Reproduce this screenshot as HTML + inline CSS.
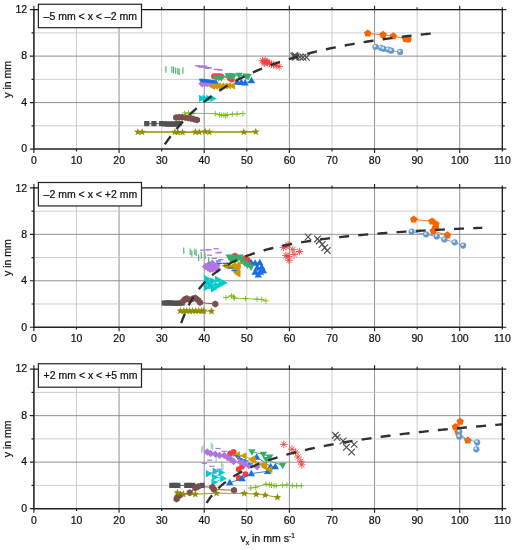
<!DOCTYPE html>
<html lang="en">
<head>
<meta charset="utf-8">
<title>y over v_x</title>
<style>
html,body{margin:0;padding:0;background:#fff;}
body{width:514px;height:550px;overflow:hidden;}
svg{display:block;}
svg text{stroke:#111;stroke-width:0.22px;}
</style>
</head>
<body>
<svg width="514" height="550" viewBox="0 0 514 550" font-family="'Liberation Sans', sans-serif" font-size="10.0" fill="#111">
<rect width="514" height="550" fill="#fff" stroke="none"/>
<defs>
<rect id="m-sq" x="-2.6" y="-2.6" width="5.2" height="5.2"/>
<circle id="m-ci" r="2.95"/>
<polygon id="m-up" points="0,-3.9 3.7,2.6 -3.7,2.6"/>
<polygon id="m-dn" points="0,3.9 3.7,-2.6 -3.7,-2.6"/>
<polygon id="m-di" points="0,-3.7 3.7,0 0,3.7 -3.7,0"/>
<polygon id="m-lt" points="-3.9,0 2.6,-3.7 2.6,3.7"/>
<polygon id="m-rt" points="3.9,0 -2.6,-3.7 -2.6,3.7"/>
<polygon id="m-hx" points="0,-3.5 3.03,-1.75 3.03,1.75 0,3.5 -3.03,1.75 -3.03,-1.75"/>
<polygon id="m-st" points="0,-4 1,-1.38 3.8,-1.24 1.62,0.53 2.35,3.24 0,1.7 -2.35,3.24 -1.62,0.53 -3.8,-1.24 -1,-1.38"/>
<polygon id="m-pe" points="0,-3.95 3.76,-1.22 2.32,3.2 -2.32,3.2 -3.76,-1.22"/>
<g id="m-sp"><circle r="3.1"/><circle cx="-0.7" cy="-0.9" r="1.3" fill="#fff" fill-opacity="0.75"/></g>
<path id="m-pl" d="M-2.8,0H2.8M0,-2.8V2.8" fill="none" stroke-width="0.8"/>
<path id="m-x" d="M-3.3,-3.3L3.3,3.3M-3.3,3.3L3.3,-3.3" fill="none" stroke-width="1.15"/>
<path id="m-as" d="M-3.8,0H3.8M0,-3.8V3.8M-2.7,-2.7L2.7,2.7M-2.7,2.7L2.7,-2.7" fill="none" stroke-width="0.85"/>
<path id="m-da" d="M-2.6,0H2.6" fill="none" stroke-width="1.25"/>
<path id="m-vb" d="M0,-3.2V3.2" fill="none" stroke-width="1.05"/>
</defs>
<g>
<line x1="76.48" x2="76.48" y1="9.65" y2="149.05" stroke="#c8c8c8" stroke-width="0.9"/>
<line x1="119.06" x2="119.06" y1="9.65" y2="149.05" stroke="#848484" stroke-width="0.9"/>
<line x1="161.65" x2="161.65" y1="9.65" y2="149.05" stroke="#c8c8c8" stroke-width="0.9"/>
<line x1="204.23" x2="204.23" y1="9.65" y2="149.05" stroke="#848484" stroke-width="0.9"/>
<line x1="246.81" x2="246.81" y1="9.65" y2="149.05" stroke="#c8c8c8" stroke-width="0.9"/>
<line x1="289.39" x2="289.39" y1="9.65" y2="149.05" stroke="#848484" stroke-width="0.9"/>
<line x1="331.97" x2="331.97" y1="9.65" y2="149.05" stroke="#c8c8c8" stroke-width="0.9"/>
<line x1="374.55" x2="374.55" y1="9.65" y2="149.05" stroke="#848484" stroke-width="0.9"/>
<line x1="417.14" x2="417.14" y1="9.65" y2="149.05" stroke="#c8c8c8" stroke-width="0.9"/>
<line x1="459.72" x2="459.72" y1="9.65" y2="149.05" stroke="#848484" stroke-width="0.9"/>
<line x1="33.9" x2="502.3" y1="125.82" y2="125.82" stroke="#c8c8c8" stroke-width="0.9"/>
<line x1="33.9" x2="502.3" y1="102.58" y2="102.58" stroke="#848484" stroke-width="0.9"/>
<line x1="33.9" x2="502.3" y1="79.35" y2="79.35" stroke="#c8c8c8" stroke-width="0.9"/>
<line x1="33.9" x2="502.3" y1="56.12" y2="56.12" stroke="#848484" stroke-width="0.9"/>
<line x1="33.9" x2="502.3" y1="32.88" y2="32.88" stroke="#c8c8c8" stroke-width="0.9"/>
<g fill="#515151" stroke="#515151" stroke-width="0">
<polyline fill="none" stroke-width="0.9" points="146.74,123.61 153.98,123.61 161.65,123.61 164.63,123.84 167.61,124.07 170.16,124.07 172.72,124.07 175.27,124.07 177.4,123.84 179.1,123.49"/>
<use href="#m-sq" x="146.74" y="123.61"/>
<use href="#m-sq" x="153.98" y="123.61"/>
<use href="#m-sq" x="161.65" y="123.61"/>
<use href="#m-sq" x="164.63" y="123.84"/>
<use href="#m-sq" x="167.61" y="124.07"/>
<use href="#m-sq" x="170.16" y="124.07"/>
<use href="#m-sq" x="172.72" y="124.07"/>
<use href="#m-sq" x="175.27" y="124.07"/>
<use href="#m-sq" x="177.4" y="123.84"/>
<use href="#m-sq" x="179.1" y="123.49"/>
</g>
<g fill="#F14040" stroke="#F14040" stroke-width="0">
<polyline fill="none" stroke-width="0.9" points="214.02,76.21 216.58,76.21 219.13,76.21 221.26,76.45 229.78,78.3 231.91,79.58"/>
<use href="#m-ci" x="214.02" y="76.21"/>
<use href="#m-ci" x="216.58" y="76.21"/>
<use href="#m-ci" x="219.13" y="76.21"/>
<use href="#m-ci" x="221.26" y="76.45"/>
<use href="#m-ci" x="229.78" y="78.3"/>
<use href="#m-ci" x="231.91" y="79.58"/>
</g>
<g fill="#1A6FDF" stroke="#1A6FDF" stroke-width="0">
<polyline fill="none" stroke-width="0.9" points="237.02,82.14 241.27,82.37 245.11,82.84 251.49,80.74"/>
<use href="#m-up" x="237.02" y="82.14"/>
<use href="#m-up" x="241.27" y="82.37"/>
<use href="#m-up" x="245.11" y="82.84"/>
<use href="#m-up" x="251.49" y="80.74"/>
</g>
<g fill="#37AD6B" stroke="#37AD6B" stroke-width="0">
<polyline fill="none" stroke-width="0.9" points="216.15,77.84 218.71,77.84 221.26,77.84 228.07,75.87 230.63,75.87 233.18,76.1 239.14,75.28 245.96,75.98 248.09,76.68"/>
<use href="#m-dn" x="216.15" y="77.84"/>
<use href="#m-dn" x="218.71" y="77.84"/>
<use href="#m-dn" x="221.26" y="77.84"/>
<use href="#m-dn" x="228.07" y="75.87"/>
<use href="#m-dn" x="230.63" y="75.87"/>
<use href="#m-dn" x="233.18" y="76.1"/>
<use href="#m-dn" x="239.14" y="75.28"/>
<use href="#m-dn" x="245.96" y="75.98"/>
<use href="#m-dn" x="248.09" y="76.68"/>
</g>
<g fill="#B177DE" stroke="#B177DE" stroke-width="0">
<polyline fill="none" stroke-width="0.9" points="202.1,83.76 204.65,83.53 207.21,83.53 210.19,83.53 213.17,83.76 215.72,84"/>
<use href="#m-di" x="202.1" y="83.76"/>
<use href="#m-di" x="204.65" y="83.53"/>
<use href="#m-di" x="207.21" y="83.53"/>
<use href="#m-di" x="210.19" y="83.53"/>
<use href="#m-di" x="213.17" y="83.76"/>
<use href="#m-di" x="215.72" y="84"/>
</g>
<g fill="#CC9900" stroke="#CC9900" stroke-width="0">
<polyline fill="none" stroke-width="0.9" points="212.32,86.32 215.3,86.09 218.28,86.09 221.69,86.09 225.09,86.09 228.5,85.86 232.33,85.86"/>
<use href="#m-lt" x="212.32" y="86.32"/>
<use href="#m-lt" x="215.3" y="86.09"/>
<use href="#m-lt" x="218.28" y="86.09"/>
<use href="#m-lt" x="221.69" y="86.09"/>
<use href="#m-lt" x="225.09" y="86.09"/>
<use href="#m-lt" x="228.5" y="85.86"/>
<use href="#m-lt" x="232.33" y="85.86"/>
</g>
<g fill="#00CBCC" stroke="#00CBCC" stroke-width="0">
<polyline fill="none" stroke-width="0.9" points="201.67,98.4 205.08,98.4 208.91,98.4 212.74,98.4"/>
<use href="#m-rt" x="201.67" y="98.4"/>
<use href="#m-rt" x="205.08" y="98.4"/>
<use href="#m-rt" x="208.91" y="98.4"/>
<use href="#m-rt" x="212.74" y="98.4"/>
</g>
<g fill="#7D4E4E" stroke="#7D4E4E" stroke-width="0">
<polyline fill="none" stroke-width="0.9" points="176.12,117.45 179.1,117.22 182.08,117.22 185.07,117.45 188.05,117.92 191.03,118.61 194.01,119.31 196.99,120.01"/>
<use href="#m-hx" x="176.12" y="117.45"/>
<use href="#m-hx" x="179.1" y="117.22"/>
<use href="#m-hx" x="182.08" y="117.22"/>
<use href="#m-hx" x="185.07" y="117.45"/>
<use href="#m-hx" x="188.05" y="117.92"/>
<use href="#m-hx" x="191.03" y="118.61"/>
<use href="#m-hx" x="194.01" y="119.31"/>
<use href="#m-hx" x="196.99" y="120.01"/>
</g>
<g fill="#8E8E00" stroke="#8E8E00" stroke-width="0">
<polyline fill="none" stroke-width="1.5" points="137.8,132.09 142.06,132.09 174.85,132.09 177.83,132.32 182.51,132.32 195.29,132.09 199.12,132.09 205.08,131.62 209.34,132.09 243.83,132.09 255.75,131.86"/>
<use href="#m-st" x="137.8" y="132.09"/>
<use href="#m-st" x="142.06" y="132.09"/>
<use href="#m-st" x="174.85" y="132.09"/>
<use href="#m-st" x="177.83" y="132.32"/>
<use href="#m-st" x="182.51" y="132.32"/>
<use href="#m-st" x="195.29" y="132.09"/>
<use href="#m-st" x="199.12" y="132.09"/>
<use href="#m-st" x="205.08" y="131.62"/>
<use href="#m-st" x="209.34" y="132.09"/>
<use href="#m-st" x="243.83" y="132.09"/>
<use href="#m-st" x="255.75" y="131.86"/>
</g>
<g fill="#FB6501" stroke="#FB6501" stroke-width="0">
<polyline fill="none" stroke-width="0.9" points="367.74,33.35 383.07,34.74 393.29,36.14 405.64,38.69 408.19,39.27"/>
<use href="#m-pe" x="367.74" y="33.35"/>
<use href="#m-pe" x="383.07" y="34.74"/>
<use href="#m-pe" x="393.29" y="36.14"/>
<use href="#m-pe" x="405.64" y="38.69"/>
<use href="#m-pe" x="408.19" y="39.27"/>
</g>
<g fill="#6699CC" stroke="#6699CC" stroke-width="0">
<polyline fill="none" stroke-width="0.9" points="375.41,46.82 380.94,47.75 383.5,48.8 388.18,49.5 391.16,50.66 400.1,51.93"/>
<use href="#m-sp" x="375.41" y="46.82"/>
<use href="#m-sp" x="380.94" y="47.75"/>
<use href="#m-sp" x="383.5" y="48.8"/>
<use href="#m-sp" x="388.18" y="49.5"/>
<use href="#m-sp" x="391.16" y="50.66"/>
<use href="#m-sp" x="400.1" y="51.93"/>
</g>
<g fill="#6FB802" stroke="#6FB802" stroke-width="0">
<polyline fill="none" stroke-width="0.8" points="184.64,113.04 188.47,113.04 193.16,113.27 215.3,113.62 219.56,114.78 221.69,115.36 223.81,115.13 225.52,115.59 227.22,114.78 232.33,114.2 237.02,113.97 242.98,113.62"/>
<use href="#m-pl" x="184.64" y="113.04"/>
<use href="#m-pl" x="188.47" y="113.04"/>
<use href="#m-pl" x="193.16" y="113.27"/>
<use href="#m-pl" x="215.3" y="113.62"/>
<use href="#m-pl" x="219.56" y="114.78"/>
<use href="#m-pl" x="221.69" y="115.36"/>
<use href="#m-pl" x="223.81" y="115.13"/>
<use href="#m-pl" x="225.52" y="115.59"/>
<use href="#m-pl" x="227.22" y="114.78"/>
<use href="#m-pl" x="232.33" y="114.2"/>
<use href="#m-pl" x="237.02" y="113.97"/>
<use href="#m-pl" x="242.98" y="113.62"/>
</g>
<g fill="#515151" stroke="#515151" stroke-width="0">
<use href="#m-x" x="293.65" y="56.12"/>
<use href="#m-x" x="294.93" y="55.54"/>
<use href="#m-x" x="296.2" y="56.7"/>
<use href="#m-x" x="295.35" y="57.28"/>
<use href="#m-x" x="300.04" y="57.05"/>
<use href="#m-x" x="303.02" y="57.28"/>
<use href="#m-x" x="306.42" y="57.28"/>
</g>
<g fill="#F14040" stroke="#F14040" stroke-width="0">
<use href="#m-as" x="262.56" y="60.76"/>
<use href="#m-as" x="263.84" y="61.93"/>
<use href="#m-as" x="265.12" y="60.53"/>
<use href="#m-as" x="266.4" y="61.93"/>
<use href="#m-as" x="267.67" y="62.51"/>
<use href="#m-as" x="269.38" y="63.09"/>
<use href="#m-as" x="271.51" y="64.25"/>
<use href="#m-as" x="273.64" y="64.83"/>
<use href="#m-as" x="276.19" y="65.41"/>
<use href="#m-as" x="279.17" y="66.57"/>
<use href="#m-as" x="264.69" y="63.09"/>
</g>
<g fill="#1A6FDF" stroke="#1A6FDF" stroke-width="0">
<use href="#m-da" x="201.67" y="79.35"/>
<use href="#m-da" x="203.8" y="79.7"/>
<use href="#m-da" x="205.93" y="79.93"/>
<use href="#m-da" x="208.06" y="80.16"/>
<use href="#m-da" x="210.19" y="80.51"/>
<use href="#m-da" x="212.32" y="80.74"/>
<use href="#m-da" x="214.45" y="81.09"/>
<use href="#m-da" x="202.1" y="80.51"/>
<use href="#m-da" x="204.65" y="80.86"/>
<use href="#m-da" x="207.21" y="81.09"/>
<use href="#m-da" x="209.76" y="81.44"/>
<use href="#m-da" x="212.32" y="81.67"/>
<use href="#m-da" x="214.87" y="82.02"/>
<use href="#m-da" x="202.95" y="81.67"/>
<use href="#m-da" x="206.36" y="82.02"/>
<use href="#m-da" x="209.34" y="82.25"/>
<use href="#m-da" x="212.74" y="82.6"/>
<use href="#m-da" x="215.3" y="82.84"/>
</g>
<g fill="#37AD6B" stroke="#37AD6B" stroke-width="0">
<use href="#m-vb" x="165.9" y="69.48"/>
<use href="#m-vb" x="171.87" y="69.48"/>
<use href="#m-vb" x="173.57" y="70.06"/>
<use href="#m-vb" x="175.7" y="70.64"/>
<use href="#m-vb" x="177.83" y="71.22"/>
<use href="#m-vb" x="179.1" y="71.8"/>
<use href="#m-vb" x="182.94" y="70.64"/>
</g>
<g fill="#B177DE" stroke="#B177DE" stroke-width="0">
<use href="#m-da" x="197.41" y="65.76"/>
<use href="#m-da" x="199.54" y="66.11"/>
<use href="#m-da" x="201.67" y="66.46"/>
<use href="#m-da" x="203.8" y="66.8"/>
<use href="#m-da" x="205.93" y="67.15"/>
<use href="#m-da" x="208.06" y="67.62"/>
<use href="#m-da" x="209.34" y="67.97"/>
<use href="#m-da" x="216.15" y="69.36"/>
<use href="#m-da" x="218.28" y="69.71"/>
<use href="#m-da" x="220.41" y="69.94"/>
<use href="#m-da" x="200.82" y="67.15"/>
<use href="#m-da" x="204.23" y="65.99"/>
<use href="#m-da" x="207.21" y="68.31"/>
</g>
<polyline fill="none" stroke="#303030" stroke-width="2.35" stroke-dasharray="10 9.2" stroke-dashoffset="-0.3" points="164.63,144.64 166.31,142.24 167.98,139.91 169.66,137.65 171.34,135.44 173.02,133.29 174.7,131.2 176.38,129.16 178.06,127.17 179.74,125.23 181.42,123.34 183.1,121.5 184.78,119.7 186.46,117.95 188.13,116.24 189.81,114.57 191.49,112.94 193.17,111.35 194.85,109.8 196.53,108.28 198.21,106.8 199.89,105.35 201.57,103.93 203.25,102.55 204.93,101.19 206.61,99.87 208.28,98.57 209.96,97.31 211.64,96.07 213.32,94.86 215,93.67 216.68,92.51 218.36,91.37 220.04,90.26 221.72,89.17 223.4,88.1 225.08,87.06 226.76,86.03 228.43,85.03 230.11,84.05 231.79,83.08 233.47,82.14 235.15,81.21 236.83,80.3 238.51,79.41 240.19,78.54 241.87,77.68 243.55,76.84 245.23,76.01 246.91,75.2 248.58,74.41 250.26,73.63 251.94,72.86 253.62,72.11 255.3,71.38 256.98,70.65 258.66,69.94 260.34,69.24 262.02,68.55 263.7,67.88 265.38,67.22 267.06,66.56 268.73,65.92 270.41,65.3 272.09,64.68 273.77,64.07 275.45,63.47 277.13,62.88 278.81,62.31 280.49,61.74 282.17,61.18 283.85,60.63 285.53,60.09 287.21,59.56 288.88,59.03 290.56,58.52 292.24,58.01 293.92,57.51 295.6,57.02 297.28,56.54 298.96,56.06 300.64,55.6 302.32,55.13 304,54.68 305.68,54.23 307.36,53.79 309.03,53.36 310.71,52.93 312.39,52.51 314.07,52.1 315.75,51.69 317.43,51.29 319.11,50.89 320.79,50.5 322.47,50.11 324.15,49.73 325.83,49.36 327.51,48.99 329.18,48.63 330.86,48.27 332.54,47.92 334.22,47.57 335.9,47.23 337.58,46.89 339.26,46.55 340.94,46.22 342.62,45.9 344.3,45.58 345.98,45.26 347.66,44.95 349.33,44.64 351.01,44.34 352.69,44.04 354.37,43.74 356.05,43.45 357.73,43.16 359.41,42.88 361.09,42.6 362.77,42.32 364.45,42.05 366.13,41.78 367.81,41.51 369.48,41.25 371.16,40.99 372.84,40.73 374.52,40.48 376.2,40.23 377.88,39.99 379.56,39.74 381.24,39.5 382.92,39.26 384.6,39.03 386.28,38.8 387.96,38.57 389.63,38.34 391.31,38.12 392.99,37.9 394.67,37.68 396.35,37.46 398.03,37.25 399.71,37.04 401.39,36.83 403.07,36.62 404.75,36.42 406.43,36.22 408.11,36.02 409.78,35.82 411.46,35.63 413.14,35.44 414.82,35.25 416.5,35.06 418.18,34.87 419.86,34.69 421.54,34.51 423.22,34.33 424.9,34.15 426.58,33.98 428.26,33.8 429.94,33.63 431.61,33.46"/>
<g stroke="#222" fill="none">
<path d="M33.9,149.05v4M33.9,9.65v-4M76.48,149.05v2.4M76.48,9.65v-2.4M119.06,149.05v4M119.06,9.65v-4M161.65,149.05v2.4M161.65,9.65v-2.4M204.23,149.05v4M204.23,9.65v-4M246.81,149.05v2.4M246.81,9.65v-2.4M289.39,149.05v4M289.39,9.65v-4M331.97,149.05v2.4M331.97,9.65v-2.4M374.55,149.05v4M374.55,9.65v-4M417.14,149.05v2.4M417.14,9.65v-2.4M459.72,149.05v4M459.72,9.65v-4M502.3,149.05v2.4M502.3,9.65v-2.4M33.9,149.05h-4M502.3,149.05h4M33.9,125.82h-2.4M502.3,125.82h2.4M33.9,102.58h-4M502.3,102.58h4M33.9,79.35h-2.4M502.3,79.35h2.4M33.9,56.12h-4M502.3,56.12h4M33.9,32.88h-2.4M502.3,32.88h2.4M33.9,9.65h-4M502.3,9.65h4" stroke-width="1.15"/>
<path d="M33.9,9.15V149.05H502.9" stroke-width="1.55"/>
<path d="M33.9,9.65H502.3V149.05" stroke-width="1.25" stroke="#111"/>
</g>
<text transform="translate(34,163.65) scale(1.05,1)" text-anchor="middle">0</text>
<text transform="translate(76.58,163.65) scale(1.05,1)" text-anchor="middle">10</text>
<text transform="translate(119.16,163.65) scale(1.05,1)" text-anchor="middle">20</text>
<text transform="translate(161.75,163.65) scale(1.05,1)" text-anchor="middle">30</text>
<text transform="translate(204.33,163.65) scale(1.05,1)" text-anchor="middle">40</text>
<text transform="translate(246.91,163.65) scale(1.05,1)" text-anchor="middle">50</text>
<text transform="translate(289.49,163.65) scale(1.05,1)" text-anchor="middle">60</text>
<text transform="translate(332.07,163.65) scale(1.05,1)" text-anchor="middle">70</text>
<text transform="translate(374.65,163.65) scale(1.05,1)" text-anchor="middle">80</text>
<text transform="translate(417.24,163.65) scale(1.05,1)" text-anchor="middle">90</text>
<text transform="translate(459.82,163.65) scale(1.05,1)" text-anchor="middle">100</text>
<text transform="translate(502.4,163.65) scale(1.05,1)" text-anchor="middle">110</text>
<text transform="translate(27.2,152.35) scale(1.05,1)" text-anchor="end">0</text>
<text transform="translate(27.2,105.88) scale(1.05,1)" text-anchor="end">4</text>
<text transform="translate(27.2,59.42) scale(1.05,1)" text-anchor="end">8</text>
<text transform="translate(27.2,12.95) scale(1.05,1)" text-anchor="end">12</text>
<text transform="translate(10.9,79.35) rotate(-90) scale(1.05,1)" text-anchor="middle">y in mm</text>
<rect x="38.4" y="4.25" width="103.1" height="23.45" fill="#fff" stroke="#222" stroke-width="1.2"/>
<text transform="translate(43.6,20.05) scale(1.05,1)">–5 mm &lt; x &lt; –2 mm</text>
</g>
<g>
<line x1="76.48" x2="76.48" y1="187.9" y2="327.2" stroke="#c8c8c8" stroke-width="0.9"/>
<line x1="119.06" x2="119.06" y1="187.9" y2="327.2" stroke="#848484" stroke-width="0.9"/>
<line x1="161.65" x2="161.65" y1="187.9" y2="327.2" stroke="#c8c8c8" stroke-width="0.9"/>
<line x1="204.23" x2="204.23" y1="187.9" y2="327.2" stroke="#848484" stroke-width="0.9"/>
<line x1="246.81" x2="246.81" y1="187.9" y2="327.2" stroke="#c8c8c8" stroke-width="0.9"/>
<line x1="289.39" x2="289.39" y1="187.9" y2="327.2" stroke="#848484" stroke-width="0.9"/>
<line x1="331.97" x2="331.97" y1="187.9" y2="327.2" stroke="#c8c8c8" stroke-width="0.9"/>
<line x1="374.55" x2="374.55" y1="187.9" y2="327.2" stroke="#848484" stroke-width="0.9"/>
<line x1="417.14" x2="417.14" y1="187.9" y2="327.2" stroke="#c8c8c8" stroke-width="0.9"/>
<line x1="459.72" x2="459.72" y1="187.9" y2="327.2" stroke="#848484" stroke-width="0.9"/>
<line x1="33.9" x2="502.3" y1="303.98" y2="303.98" stroke="#c8c8c8" stroke-width="0.9"/>
<line x1="33.9" x2="502.3" y1="280.77" y2="280.77" stroke="#848484" stroke-width="0.9"/>
<line x1="33.9" x2="502.3" y1="257.55" y2="257.55" stroke="#c8c8c8" stroke-width="0.9"/>
<line x1="33.9" x2="502.3" y1="234.33" y2="234.33" stroke="#848484" stroke-width="0.9"/>
<line x1="33.9" x2="502.3" y1="211.12" y2="211.12" stroke="#c8c8c8" stroke-width="0.9"/>
<g fill="#515151" stroke="#515151" stroke-width="0">
<polyline fill="none" stroke-width="0.9" points="164.2,303.05 166.76,303.05 169.31,302.82 171.87,303.05 174.42,303.29 176.97,303.29 179.53,303.05 182.08,303.05"/>
<use href="#m-sq" x="164.2" y="303.05"/>
<use href="#m-sq" x="166.76" y="303.05"/>
<use href="#m-sq" x="169.31" y="302.82"/>
<use href="#m-sq" x="171.87" y="303.05"/>
<use href="#m-sq" x="174.42" y="303.29"/>
<use href="#m-sq" x="176.97" y="303.29"/>
<use href="#m-sq" x="179.53" y="303.05"/>
<use href="#m-sq" x="182.08" y="303.05"/>
</g>
<g fill="#F14040" stroke="#F14040" stroke-width="0">
<polyline fill="none" stroke-width="0.9" points="234.89,255.81 245.11,258.13 247.66,259.87 249.36,262.19 250.64,264.28 248.09,262.77"/>
<use href="#m-ci" x="234.89" y="255.81"/>
<use href="#m-ci" x="245.11" y="258.13"/>
<use href="#m-ci" x="247.66" y="259.87"/>
<use href="#m-ci" x="249.36" y="262.19"/>
<use href="#m-ci" x="250.64" y="264.28"/>
<use href="#m-ci" x="248.09" y="262.77"/>
</g>
<g fill="#1A6FDF" stroke="#1A6FDF" stroke-width="0">
<polyline fill="none" stroke-width="0.9" points="251.07,262.54 255.11,263.24 259.8,262.54 257.03,268 261.71,267.18 255.11,272.06 260.44,272.06 263.42,270.67 258.31,274.96"/>
<use href="#m-up" x="251.07" y="262.54"/>
<use href="#m-up" x="255.11" y="263.24"/>
<use href="#m-up" x="259.8" y="262.54"/>
<use href="#m-up" x="257.03" y="268"/>
<use href="#m-up" x="261.71" y="267.18"/>
<use href="#m-up" x="255.11" y="272.06"/>
<use href="#m-up" x="260.44" y="272.06"/>
<use href="#m-up" x="263.42" y="270.67"/>
<use href="#m-up" x="258.31" y="274.96"/>
</g>
<g fill="#37AD6B" stroke="#37AD6B" stroke-width="0">
<polyline fill="none" stroke-width="0.9" points="229.14,257.09 232.76,257.43 237.44,258.48 240,257.09 241.49,260.45 244.89,263.24 247.66,265.21 251.07,267.18 231.05,259.29 234.89,260.45"/>
<use href="#m-dn" x="229.14" y="257.09"/>
<use href="#m-dn" x="232.76" y="257.43"/>
<use href="#m-dn" x="237.44" y="258.48"/>
<use href="#m-dn" x="240" y="257.09"/>
<use href="#m-dn" x="241.49" y="260.45"/>
<use href="#m-dn" x="244.89" y="263.24"/>
<use href="#m-dn" x="247.66" y="265.21"/>
<use href="#m-dn" x="251.07" y="267.18"/>
<use href="#m-dn" x="231.05" y="259.29"/>
<use href="#m-dn" x="234.89" y="260.45"/>
</g>
<g fill="#B177DE" stroke="#B177DE" stroke-width="0">
<polyline fill="none" stroke-width="0.9" points="205.5,266.6 208.91,264.51 212.32,263.24 210.19,269.27 214.23,267.18 217,265.21 217.64,269.27 208.06,268 212.74,269.16"/>
<use href="#m-di" x="205.5" y="266.6"/>
<use href="#m-di" x="208.91" y="264.51"/>
<use href="#m-di" x="212.32" y="263.24"/>
<use href="#m-di" x="210.19" y="269.27"/>
<use href="#m-di" x="214.23" y="267.18"/>
<use href="#m-di" x="217" y="265.21"/>
<use href="#m-di" x="217.64" y="269.27"/>
<use href="#m-di" x="208.06" y="268"/>
<use href="#m-di" x="212.74" y="269.16"/>
</g>
<g fill="#CC9900" stroke="#CC9900" stroke-width="0">
<polyline fill="none" stroke-width="0.9" points="225.52,265.68 228.07,266.02 232.12,267.07 235.31,268 237.65,269.04 236.16,271.02 238.29,264.98 237.02,272.52 233.61,265.68 237.87,273.8"/>
<use href="#m-lt" x="225.52" y="265.68"/>
<use href="#m-lt" x="228.07" y="266.02"/>
<use href="#m-lt" x="232.12" y="267.07"/>
<use href="#m-lt" x="235.31" y="268"/>
<use href="#m-lt" x="237.65" y="269.04"/>
<use href="#m-lt" x="236.16" y="271.02"/>
<use href="#m-lt" x="238.29" y="264.98"/>
<use href="#m-lt" x="237.02" y="272.52"/>
<use href="#m-lt" x="233.61" y="265.68"/>
<use href="#m-lt" x="237.87" y="273.8"/>
</g>
<g fill="#00CBCC" stroke="#00CBCC" stroke-width="0">
<polyline fill="none" stroke-width="0.9" points="206.78,278.79 212.74,280.88 217.64,279.49 223.81,282.86 210.19,285.64 217,286.34 208.06,282.51 220.83,284.25 206.36,287.5 213.6,288.89"/>
<use href="#m-rt" x="206.78" y="278.79"/>
<use href="#m-rt" x="212.74" y="280.88"/>
<use href="#m-rt" x="217.64" y="279.49"/>
<use href="#m-rt" x="223.81" y="282.86"/>
<use href="#m-rt" x="210.19" y="285.64"/>
<use href="#m-rt" x="217" y="286.34"/>
<use href="#m-rt" x="208.06" y="282.51"/>
<use href="#m-rt" x="220.83" y="284.25"/>
<use href="#m-rt" x="206.36" y="287.5"/>
<use href="#m-rt" x="213.6" y="288.89"/>
</g>
<g fill="#7D4E4E" stroke="#7D4E4E" stroke-width="0">
<polyline fill="none" stroke-width="0.9" points="183.36,300.97 185.07,299.34 186.77,298.53 189.75,299.92 192.73,298.76 195.29,297.95 198.27,300.15 199.97,302.59 215.3,303.98"/>
<use href="#m-hx" x="183.36" y="300.97"/>
<use href="#m-hx" x="185.07" y="299.34"/>
<use href="#m-hx" x="186.77" y="298.53"/>
<use href="#m-hx" x="189.75" y="299.92"/>
<use href="#m-hx" x="192.73" y="298.76"/>
<use href="#m-hx" x="195.29" y="297.95"/>
<use href="#m-hx" x="198.27" y="300.15"/>
<use href="#m-hx" x="199.97" y="302.59"/>
<use href="#m-hx" x="215.3" y="303.98"/>
</g>
<g fill="#8E8E00" stroke="#8E8E00" stroke-width="0">
<polyline fill="none" stroke-width="0.9" points="180.38,310.95 183.79,310.95 186.77,310.95 189.75,310.95 192.73,310.95 195.71,310.95 198.69,310.95 201.67,310.95 203.8,310.95 211.47,311.18"/>
<use href="#m-st" x="180.38" y="310.95"/>
<use href="#m-st" x="183.79" y="310.95"/>
<use href="#m-st" x="186.77" y="310.95"/>
<use href="#m-st" x="189.75" y="310.95"/>
<use href="#m-st" x="192.73" y="310.95"/>
<use href="#m-st" x="195.71" y="310.95"/>
<use href="#m-st" x="198.69" y="310.95"/>
<use href="#m-st" x="201.67" y="310.95"/>
<use href="#m-st" x="203.8" y="310.95"/>
<use href="#m-st" x="211.47" y="311.18"/>
</g>
<g fill="#FB6501" stroke="#FB6501" stroke-width="0">
<polyline fill="none" stroke-width="0.9" points="413.73,219.36 432.04,221.33 435.87,224.23 435.45,227.72 433.32,230.97 447.37,235.26"/>
<use href="#m-pe" x="413.73" y="219.36"/>
<use href="#m-pe" x="432.04" y="221.33"/>
<use href="#m-pe" x="435.87" y="224.23"/>
<use href="#m-pe" x="435.45" y="227.72"/>
<use href="#m-pe" x="433.32" y="230.97"/>
<use href="#m-pe" x="447.37" y="235.26"/>
</g>
<g fill="#6699CC" stroke="#6699CC" stroke-width="0">
<polyline fill="none" stroke-width="0.9" points="411.6,231.66 426.08,234.33 436.72,236.42 444.39,239.44 454.61,242.34 463.12,245.59"/>
<use href="#m-sp" x="411.6" y="231.66"/>
<use href="#m-sp" x="426.08" y="234.33"/>
<use href="#m-sp" x="436.72" y="236.42"/>
<use href="#m-sp" x="444.39" y="239.44"/>
<use href="#m-sp" x="454.61" y="242.34"/>
<use href="#m-sp" x="463.12" y="245.59"/>
</g>
<g fill="#6FB802" stroke="#6FB802" stroke-width="0">
<polyline fill="none" stroke-width="0.8" points="225.94,297.6 231.48,295.74 233.61,296.9 234.46,298.18 245.53,298.64 257.03,299.22 261.71,299.57 265.97,300.85"/>
<use href="#m-pl" x="225.94" y="297.6"/>
<use href="#m-pl" x="231.48" y="295.74"/>
<use href="#m-pl" x="233.61" y="296.9"/>
<use href="#m-pl" x="234.46" y="298.18"/>
<use href="#m-pl" x="245.53" y="298.64"/>
<use href="#m-pl" x="257.03" y="299.22"/>
<use href="#m-pl" x="261.71" y="299.57"/>
<use href="#m-pl" x="265.97" y="300.85"/>
</g>
<g fill="#515151" stroke="#515151" stroke-width="0">
<use href="#m-x" x="308.13" y="237"/>
<use href="#m-x" x="317.49" y="238.98"/>
<use href="#m-x" x="319.2" y="240.95"/>
<use href="#m-x" x="322.18" y="244.43"/>
<use href="#m-x" x="324.73" y="247.68"/>
<use href="#m-x" x="327.29" y="250.58"/>
</g>
<g fill="#F14040" stroke="#F14040" stroke-width="0">
<use href="#m-as" x="283.43" y="247.57"/>
<use href="#m-as" x="288.11" y="244.78"/>
<use href="#m-as" x="292.8" y="249.66"/>
<use href="#m-as" x="299.61" y="251.51"/>
<use href="#m-as" x="294.07" y="254.53"/>
<use href="#m-as" x="288.11" y="256.39"/>
<use href="#m-as" x="288.97" y="260.34"/>
<use href="#m-as" x="285.98" y="255.46"/>
<use href="#m-as" x="285.98" y="246.52"/>
</g>
<g fill="#1A6FDF" stroke="#1A6FDF" stroke-width="0">
<use href="#m-da" x="218.49" y="261.03"/>
<use href="#m-da" x="219.98" y="263.35"/>
<use href="#m-da" x="225.52" y="263.35"/>
<use href="#m-da" x="226.37" y="265.68"/>
<use href="#m-da" x="230.63" y="268"/>
<use href="#m-da" x="234.03" y="270.55"/>
</g>
<g fill="#37AD6B" stroke="#37AD6B" stroke-width="0">
<use href="#m-vb" x="183.79" y="250.58"/>
<use href="#m-vb" x="190.18" y="251.75"/>
<use href="#m-vb" x="191.88" y="253.49"/>
<use href="#m-vb" x="194.86" y="251.75"/>
<use href="#m-vb" x="196.14" y="252.91"/>
<use href="#m-vb" x="198.69" y="257.78"/>
<use href="#m-vb" x="201.25" y="255.23"/>
<use href="#m-vb" x="205.08" y="256.04"/>
<use href="#m-vb" x="208.7" y="260.8"/>
</g>
<g fill="#B177DE" stroke="#B177DE" stroke-width="0">
<use href="#m-da" x="202.52" y="250.12"/>
<use href="#m-da" x="209.12" y="249.77"/>
<use href="#m-da" x="216.15" y="248.73"/>
<use href="#m-da" x="217.85" y="252.91"/>
<use href="#m-da" x="209.55" y="255.23"/>
<use href="#m-da" x="214.23" y="258.36"/>
<use href="#m-da" x="220.83" y="259.52"/>
<use href="#m-da" x="219.56" y="252.33"/>
<use href="#m-da" x="206.78" y="249.89"/>
</g>
<polyline fill="none" stroke="#303030" stroke-width="2.35" stroke-dasharray="10 9.2" stroke-dashoffset="-0.6" points="181.02,323.66 182.91,318.44 184.81,313.73 186.7,309.45 188.6,305.54 190.49,301.97 192.39,298.68 194.28,295.64 196.18,292.82 198.07,290.21 199.97,287.77 201.86,285.49 203.76,283.36 205.65,281.36 207.55,279.48 209.44,277.71 211.34,276.03 213.23,274.45 215.13,272.95 217.02,271.52 218.92,270.17 220.81,268.88 222.7,267.66 224.6,266.49 226.49,265.37 228.39,264.3 230.28,263.28 232.18,262.3 234.07,261.36 235.97,260.46 237.86,259.59 239.76,258.76 241.65,257.96 243.55,257.18 245.44,256.44 247.34,255.72 249.23,255.03 251.13,254.36 253.02,253.71 254.92,253.09 256.81,252.48 258.71,251.9 260.6,251.33 262.49,250.78 264.39,250.25 266.28,249.73 268.18,249.22 270.07,248.74 271.97,248.26 273.86,247.8 275.76,247.35 277.65,246.92 279.55,246.49 281.44,246.08 283.34,245.68 285.23,245.29 287.13,244.9 289.02,244.53 290.92,244.17 292.81,243.81 294.71,243.47 296.6,243.13 298.5,242.8 300.39,242.48 302.28,242.16 304.18,241.85 306.07,241.55 307.97,241.26 309.86,240.97 311.76,240.69 313.65,240.41 315.55,240.14 317.44,239.87 319.34,239.62 321.23,239.36 323.13,239.11 325.02,238.87 326.92,238.63 328.81,238.4 330.71,238.17 332.6,237.94 334.5,237.72 336.39,237.5 338.29,237.29 340.18,237.08 342.07,236.87 343.97,236.67 345.86,236.47 347.76,236.28 349.65,236.09 351.55,235.9 353.44,235.71 355.34,235.53 357.23,235.35 359.13,235.18 361.02,235 362.92,234.83 364.81,234.67 366.71,234.5 368.6,234.34 370.5,234.18 372.39,234.02 374.29,233.87 376.18,233.72 378.07,233.57 379.97,233.42 381.86,233.28 383.76,233.13 385.65,232.99 387.55,232.85 389.44,232.72 391.34,232.58 393.23,232.45 395.13,232.32 397.02,232.19 398.92,232.06 400.81,231.93 402.71,231.81 404.6,231.69 406.5,231.57 408.39,231.45 410.29,231.33 412.18,231.21 414.08,231.1 415.97,230.99 417.86,230.88 419.76,230.77 421.65,230.66 423.55,230.55 425.44,230.44 427.34,230.34 429.23,230.24 431.13,230.14 433.02,230.03 434.92,229.94 436.81,229.84 438.71,229.74 440.6,229.64 442.5,229.55 444.39,229.46 446.29,229.36 448.18,229.27 450.08,229.18 451.97,229.09 453.87,229 455.76,228.92 457.65,228.83 459.55,228.75 461.44,228.66 463.34,228.58 465.23,228.5 467.13,228.41 469.02,228.33 470.92,228.25 472.81,228.17 474.71,228.1 476.6,228.02 478.5,227.94 480.39,227.87 482.29,227.79"/>
<g stroke="#222" fill="none">
<path d="M33.9,327.2v4M33.9,187.9v-4M76.48,327.2v2.4M76.48,187.9v-2.4M119.06,327.2v4M119.06,187.9v-4M161.65,327.2v2.4M161.65,187.9v-2.4M204.23,327.2v4M204.23,187.9v-4M246.81,327.2v2.4M246.81,187.9v-2.4M289.39,327.2v4M289.39,187.9v-4M331.97,327.2v2.4M331.97,187.9v-2.4M374.55,327.2v4M374.55,187.9v-4M417.14,327.2v2.4M417.14,187.9v-2.4M459.72,327.2v4M459.72,187.9v-4M502.3,327.2v2.4M502.3,187.9v-2.4M33.9,327.2h-4M502.3,327.2h4M33.9,303.98h-2.4M502.3,303.98h2.4M33.9,280.77h-4M502.3,280.77h4M33.9,257.55h-2.4M502.3,257.55h2.4M33.9,234.33h-4M502.3,234.33h4M33.9,211.12h-2.4M502.3,211.12h2.4M33.9,187.9h-4M502.3,187.9h4" stroke-width="1.15"/>
<path d="M33.9,187.4V327.2H502.9" stroke-width="1.55"/>
<path d="M33.9,187.9H502.3V327.2" stroke-width="1.25" stroke="#111"/>
</g>
<text transform="translate(34,342.2) scale(1.05,1)" text-anchor="middle">0</text>
<text transform="translate(76.58,342.2) scale(1.05,1)" text-anchor="middle">10</text>
<text transform="translate(119.16,342.2) scale(1.05,1)" text-anchor="middle">20</text>
<text transform="translate(161.75,342.2) scale(1.05,1)" text-anchor="middle">30</text>
<text transform="translate(204.33,342.2) scale(1.05,1)" text-anchor="middle">40</text>
<text transform="translate(246.91,342.2) scale(1.05,1)" text-anchor="middle">50</text>
<text transform="translate(289.49,342.2) scale(1.05,1)" text-anchor="middle">60</text>
<text transform="translate(332.07,342.2) scale(1.05,1)" text-anchor="middle">70</text>
<text transform="translate(374.65,342.2) scale(1.05,1)" text-anchor="middle">80</text>
<text transform="translate(417.24,342.2) scale(1.05,1)" text-anchor="middle">90</text>
<text transform="translate(459.82,342.2) scale(1.05,1)" text-anchor="middle">100</text>
<text transform="translate(502.4,342.2) scale(1.05,1)" text-anchor="middle">110</text>
<text transform="translate(27.2,330.8) scale(1.05,1)" text-anchor="end">0</text>
<text transform="translate(27.2,284.37) scale(1.05,1)" text-anchor="end">4</text>
<text transform="translate(27.2,237.93) scale(1.05,1)" text-anchor="end">8</text>
<text transform="translate(27.2,191.5) scale(1.05,1)" text-anchor="end">12</text>
<text transform="translate(10.9,257.55) rotate(-90) scale(1.05,1)" text-anchor="middle">y in mm</text>
<rect x="38.4" y="182.5" width="103.1" height="23.45" fill="#fff" stroke="#222" stroke-width="1.2"/>
<text transform="translate(43.6,198.3) scale(1.05,1)">–2 mm &lt; x &lt; +2 mm</text>
</g>
<g>
<line x1="76.48" x2="76.48" y1="369.15" y2="508.65" stroke="#c8c8c8" stroke-width="0.9"/>
<line x1="119.06" x2="119.06" y1="369.15" y2="508.65" stroke="#848484" stroke-width="0.9"/>
<line x1="161.65" x2="161.65" y1="369.15" y2="508.65" stroke="#c8c8c8" stroke-width="0.9"/>
<line x1="204.23" x2="204.23" y1="369.15" y2="508.65" stroke="#848484" stroke-width="0.9"/>
<line x1="246.81" x2="246.81" y1="369.15" y2="508.65" stroke="#c8c8c8" stroke-width="0.9"/>
<line x1="289.39" x2="289.39" y1="369.15" y2="508.65" stroke="#848484" stroke-width="0.9"/>
<line x1="331.97" x2="331.97" y1="369.15" y2="508.65" stroke="#c8c8c8" stroke-width="0.9"/>
<line x1="374.55" x2="374.55" y1="369.15" y2="508.65" stroke="#848484" stroke-width="0.9"/>
<line x1="417.14" x2="417.14" y1="369.15" y2="508.65" stroke="#c8c8c8" stroke-width="0.9"/>
<line x1="459.72" x2="459.72" y1="369.15" y2="508.65" stroke="#848484" stroke-width="0.9"/>
<line x1="33.9" x2="502.3" y1="485.4" y2="485.4" stroke="#c8c8c8" stroke-width="0.9"/>
<line x1="33.9" x2="502.3" y1="462.15" y2="462.15" stroke="#848484" stroke-width="0.9"/>
<line x1="33.9" x2="502.3" y1="438.9" y2="438.9" stroke="#c8c8c8" stroke-width="0.9"/>
<line x1="33.9" x2="502.3" y1="415.65" y2="415.65" stroke="#848484" stroke-width="0.9"/>
<line x1="33.9" x2="502.3" y1="392.4" y2="392.4" stroke="#c8c8c8" stroke-width="0.9"/>
<g fill="#515151" stroke="#515151" stroke-width="0">
<polyline fill="none" stroke-width="0.9" points="171.87,485.4 174.42,485.4 177.83,485.4 186.77,485.4 189.32,485.4 192.73,485.4 202.1,485.4"/>
<use href="#m-sq" x="171.87" y="485.4"/>
<use href="#m-sq" x="174.42" y="485.4"/>
<use href="#m-sq" x="177.83" y="485.4"/>
<use href="#m-sq" x="186.77" y="485.4"/>
<use href="#m-sq" x="189.32" y="485.4"/>
<use href="#m-sq" x="192.73" y="485.4"/>
<use href="#m-sq" x="202.1" y="485.4"/>
</g>
<g fill="#F14040" stroke="#F14040" stroke-width="0">
<polyline fill="none" stroke-width="0.9" points="230.2,453.43 233.61,452.04 242.13,466.57 238.72,469.24 245.53,474.24 238.72,477.96"/>
<use href="#m-ci" x="230.2" y="453.43"/>
<use href="#m-ci" x="233.61" y="452.04"/>
<use href="#m-ci" x="242.13" y="466.57"/>
<use href="#m-ci" x="238.72" y="469.24"/>
<use href="#m-ci" x="245.53" y="474.24"/>
<use href="#m-ci" x="238.72" y="477.96"/>
</g>
<g fill="#1A6FDF" stroke="#1A6FDF" stroke-width="0">
<polyline fill="none" stroke-width="0.9" points="229.78,482.73 242.13,478.66 251.28,473.54 267.67,471.33 275.34,466.57 270.65,466.57 256.6,457.03"/>
<use href="#m-up" x="229.78" y="482.73"/>
<use href="#m-up" x="242.13" y="478.66"/>
<use href="#m-up" x="251.28" y="473.54"/>
<use href="#m-up" x="267.67" y="471.33"/>
<use href="#m-up" x="275.34" y="466.57"/>
<use href="#m-up" x="270.65" y="466.57"/>
<use href="#m-up" x="256.6" y="457.03"/>
</g>
<g fill="#37AD6B" stroke="#37AD6B" stroke-width="0">
<polyline fill="none" stroke-width="0.9" points="251.92,451.8 263.42,454.25 269.8,457.03 266.4,459.71 282.58,465.4"/>
<use href="#m-dn" x="251.92" y="451.8"/>
<use href="#m-dn" x="263.42" y="454.25"/>
<use href="#m-dn" x="269.8" y="457.03"/>
<use href="#m-dn" x="266.4" y="459.71"/>
<use href="#m-dn" x="282.58" y="465.4"/>
</g>
<g fill="#B177DE" stroke="#B177DE" stroke-width="0">
<polyline fill="none" stroke-width="0.9" points="207.21,452.04 210.61,453.43 215.3,454.13 219.56,455.41 224.24,455.41 227.65,457.5 231.05,459.48 233.61,461.57 240.42,462.15 244.68,464.24 248.94,465.64 257.03,466.8"/>
<use href="#m-di" x="207.21" y="452.04"/>
<use href="#m-di" x="210.61" y="453.43"/>
<use href="#m-di" x="215.3" y="454.13"/>
<use href="#m-di" x="219.56" y="455.41"/>
<use href="#m-di" x="224.24" y="455.41"/>
<use href="#m-di" x="227.65" y="457.5"/>
<use href="#m-di" x="231.05" y="459.48"/>
<use href="#m-di" x="233.61" y="461.57"/>
<use href="#m-di" x="240.42" y="462.15"/>
<use href="#m-di" x="244.68" y="464.24"/>
<use href="#m-di" x="248.94" y="465.64"/>
<use href="#m-di" x="257.03" y="466.8"/>
</g>
<g fill="#CC9900" stroke="#CC9900" stroke-width="0">
<polyline fill="none" stroke-width="0.9" points="237.44,454.83 243.83,455.87 251.92,459.24 253.2,460.41 262.99,464.71 264.69,467.03 269.8,469.47"/>
<use href="#m-lt" x="237.44" y="454.83"/>
<use href="#m-lt" x="243.83" y="455.87"/>
<use href="#m-lt" x="251.92" y="459.24"/>
<use href="#m-lt" x="253.2" y="460.41"/>
<use href="#m-lt" x="262.99" y="464.71"/>
<use href="#m-lt" x="264.69" y="467.03"/>
<use href="#m-lt" x="269.8" y="469.47"/>
</g>
<g fill="#00CBCC" stroke="#00CBCC" stroke-width="0">
<polyline fill="none" stroke-width="0.9" points="208.49,473.77 215.3,471.1 221.26,472.5 214.66,477.15 222.96,478.54 214.02,482.61"/>
<use href="#m-rt" x="208.49" y="473.77"/>
<use href="#m-rt" x="215.3" y="471.1"/>
<use href="#m-rt" x="221.26" y="472.5"/>
<use href="#m-rt" x="214.66" y="477.15"/>
<use href="#m-rt" x="222.96" y="478.54"/>
<use href="#m-rt" x="214.02" y="482.61"/>
</g>
<g fill="#7D4E4E" stroke="#7D4E4E" stroke-width="0">
<polyline fill="none" stroke-width="0.9" points="176.55,498.88 177.4,497.37 180.38,495.05 189.75,492.72 195.29,488.07 198.27,486.45 212.32,487.26 214.02,489.47 234.03,490.28"/>
<use href="#m-hx" x="176.55" y="498.88"/>
<use href="#m-hx" x="177.4" y="497.37"/>
<use href="#m-hx" x="180.38" y="495.05"/>
<use href="#m-hx" x="189.75" y="492.72"/>
<use href="#m-hx" x="195.29" y="488.07"/>
<use href="#m-hx" x="198.27" y="486.45"/>
<use href="#m-hx" x="212.32" y="487.26"/>
<use href="#m-hx" x="214.02" y="489.47"/>
<use href="#m-hx" x="234.03" y="490.28"/>
</g>
<g fill="#8E8E00" stroke="#8E8E00" stroke-width="0">
<polyline fill="none" stroke-width="0.9" points="177.4,492.72 183.36,494.23 195.29,494.23 216.58,493.19 244.25,493.42 256.18,494.23 265.12,495.05 277.47,497.37"/>
<use href="#m-st" x="177.4" y="492.72"/>
<use href="#m-st" x="183.36" y="494.23"/>
<use href="#m-st" x="195.29" y="494.23"/>
<use href="#m-st" x="216.58" y="493.19"/>
<use href="#m-st" x="244.25" y="493.42"/>
<use href="#m-st" x="256.18" y="494.23"/>
<use href="#m-st" x="265.12" y="495.05"/>
<use href="#m-st" x="277.47" y="497.37"/>
</g>
<g fill="#FB6501" stroke="#FB6501" stroke-width="0">
<polyline fill="none" stroke-width="0.9" points="460.14,421.58 455.46,426.93 458.01,432.27 467.81,440.41"/>
<use href="#m-pe" x="460.14" y="421.58"/>
<use href="#m-pe" x="455.46" y="426.93"/>
<use href="#m-pe" x="458.01" y="432.27"/>
<use href="#m-pe" x="467.81" y="440.41"/>
</g>
<g fill="#6699CC" stroke="#6699CC" stroke-width="0">
<polyline fill="none" stroke-width="0.9" points="459.29,431.69 459.29,436.57 477.18,442.39 476.33,449.36"/>
<use href="#m-sp" x="459.29" y="431.69"/>
<use href="#m-sp" x="459.29" y="436.57"/>
<use href="#m-sp" x="477.18" y="442.39"/>
<use href="#m-sp" x="476.33" y="449.36"/>
</g>
<g fill="#6FB802" stroke="#6FB802" stroke-width="0">
<polyline fill="none" stroke-width="0.8" points="250.64,487.96 255.75,487.26 265.97,484.12 269.38,484.59 271.51,485.17 274.06,485.75 276.19,485.75 282.58,485.17 286.84,484.94 292.37,485.75 296.63,485.75 301.31,485.75"/>
<use href="#m-pl" x="250.64" y="487.96"/>
<use href="#m-pl" x="255.75" y="487.26"/>
<use href="#m-pl" x="265.97" y="484.12"/>
<use href="#m-pl" x="269.38" y="484.59"/>
<use href="#m-pl" x="271.51" y="485.17"/>
<use href="#m-pl" x="274.06" y="485.75"/>
<use href="#m-pl" x="276.19" y="485.75"/>
<use href="#m-pl" x="282.58" y="485.17"/>
<use href="#m-pl" x="286.84" y="484.94"/>
<use href="#m-pl" x="292.37" y="485.75"/>
<use href="#m-pl" x="296.63" y="485.75"/>
<use href="#m-pl" x="301.31" y="485.75"/>
</g>
<g fill="#515151" stroke="#515151" stroke-width="0">
<use href="#m-x" x="335.38" y="435.18"/>
<use href="#m-x" x="337.08" y="437.5"/>
<use href="#m-x" x="343.04" y="440.99"/>
<use href="#m-x" x="346.45" y="447.27"/>
<use href="#m-x" x="354.12" y="444.36"/>
<use href="#m-x" x="351.56" y="452.15"/>
</g>
<g fill="#F14040" stroke="#F14040" stroke-width="0">
<use href="#m-as" x="283.86" y="444.36"/>
<use href="#m-as" x="291.95" y="449.25"/>
<use href="#m-as" x="295.78" y="452.15"/>
<use href="#m-as" x="297.91" y="457.03"/>
<use href="#m-as" x="300.89" y="461.34"/>
<use href="#m-as" x="301.74" y="464.82"/>
</g>
<g fill="#1A6FDF" stroke="#1A6FDF" stroke-width="0">
<use href="#m-da" x="235.31" y="455.76"/>
<use href="#m-da" x="240" y="458.66"/>
<use href="#m-da" x="245.96" y="460.99"/>
<use href="#m-da" x="250.64" y="463.89"/>
<use href="#m-da" x="238.29" y="456.92"/>
<use href="#m-da" x="243.4" y="459.82"/>
</g>
<g fill="#37AD6B" stroke="#37AD6B" stroke-width="0" opacity="0.6">
<use href="#m-vb" x="201.67" y="449.94"/>
<use href="#m-vb" x="202.95" y="448.55"/>
<use href="#m-vb" x="211.25" y="445.64"/>
<use href="#m-vb" x="212.74" y="447.27"/>
<use href="#m-vb" x="216.15" y="458.78"/>
<use href="#m-vb" x="221.69" y="464.59"/>
<use href="#m-vb" x="222.96" y="467.03"/>
</g>
<g fill="#B177DE" stroke="#B177DE" stroke-width="0">
<use href="#m-da" x="218.07" y="448.55"/>
<use href="#m-da" x="224.24" y="451.34"/>
<use href="#m-da" x="204.44" y="463.31"/>
<use href="#m-da" x="209.76" y="460.17"/>
<use href="#m-da" x="211.89" y="466.33"/>
<use href="#m-da" x="219.56" y="469.24"/>
<use href="#m-da" x="214.02" y="473.08"/>
</g>
<polyline fill="none" stroke="#303030" stroke-width="2.35" stroke-dasharray="10 9.2" stroke-dashoffset="0.5" points="206.57,502.98 208.43,500.11 210.29,497.5 212.15,495.11 214.01,492.9 215.87,490.85 217.73,488.93 219.59,487.14 221.45,485.46 223.31,483.87 225.17,482.37 227.03,480.94 228.89,479.59 230.75,478.29 232.61,477.06 234.47,475.88 236.33,474.75 238.19,473.66 240.05,472.62 241.91,471.62 243.77,470.65 245.63,469.71 247.49,468.81 249.35,467.94 251.21,467.09 253.07,466.27 254.93,465.48 256.79,464.71 258.65,463.96 260.51,463.23 262.37,462.52 264.23,461.83 266.09,461.16 267.95,460.5 269.81,459.87 271.67,459.24 273.53,458.63 275.39,458.04 277.25,457.46 279.11,456.89 280.97,456.33 282.83,455.79 284.69,455.25 286.55,454.73 288.41,454.22 290.27,453.72 292.13,453.23 293.99,452.74 295.85,452.27 297.71,451.81 299.57,451.35 301.43,450.9 303.29,450.46 305.15,450.03 307.01,449.6 308.87,449.18 310.73,448.77 312.59,448.37 314.45,447.97 316.31,447.58 318.17,447.19 320.03,446.81 321.89,446.44 323.75,446.07 325.61,445.71 327.47,445.35 329.33,444.99 331.19,444.65 333.05,444.3 334.91,443.96 336.77,443.63 338.63,443.3 340.49,442.98 342.35,442.66 344.2,442.34 346.06,442.03 347.92,441.72 349.78,441.41 351.64,441.11 353.5,440.81 355.36,440.52 357.22,440.23 359.08,439.94 360.94,439.66 362.8,439.38 364.66,439.1 366.52,438.83 368.38,438.56 370.24,438.29 372.1,438.03 373.96,437.76 375.82,437.5 377.68,437.25 379.54,436.99 381.4,436.74 383.26,436.49 385.12,436.25 386.98,436 388.84,435.76 390.7,435.53 392.56,435.29 394.42,435.05 396.28,434.82 398.14,434.59 400,434.37 401.86,434.14 403.72,433.92 405.58,433.7 407.44,433.48 409.3,433.26 411.16,433.05 413.02,432.83 414.88,432.62 416.74,432.41 418.6,432.21 420.46,432 422.32,431.8 424.18,431.59 426.04,431.39 427.9,431.2 429.76,431 431.62,430.8 433.48,430.61 435.34,430.42 437.2,430.23 439.06,430.04 440.92,429.85 442.78,429.66 444.64,429.48 446.5,429.3 448.36,429.11 450.22,428.93 452.08,428.75 453.94,428.58 455.8,428.4 457.66,428.23 459.52,428.05 461.38,427.88 463.24,427.71 465.1,427.54 466.96,427.37 468.82,427.2 470.68,427.04 472.54,426.87 474.4,426.71 476.26,426.54 478.12,426.38 479.98,426.22 481.84,426.06 483.7,425.91 485.56,425.75 487.42,425.59 489.28,425.44 491.14,425.28 493,425.13 494.86,424.98 496.72,424.83 498.58,424.68 500.44,424.53 502.3,424.38"/>
<g stroke="#222" fill="none">
<path d="M33.9,508.65v4M33.9,369.15v-4M76.48,508.65v2.4M76.48,369.15v-2.4M119.06,508.65v4M119.06,369.15v-4M161.65,508.65v2.4M161.65,369.15v-2.4M204.23,508.65v4M204.23,369.15v-4M246.81,508.65v2.4M246.81,369.15v-2.4M289.39,508.65v4M289.39,369.15v-4M331.97,508.65v2.4M331.97,369.15v-2.4M374.55,508.65v4M374.55,369.15v-4M417.14,508.65v2.4M417.14,369.15v-2.4M459.72,508.65v4M459.72,369.15v-4M502.3,508.65v2.4M502.3,369.15v-2.4M33.9,508.65h-4M502.3,508.65h4M33.9,485.4h-2.4M502.3,485.4h2.4M33.9,462.15h-4M502.3,462.15h4M33.9,438.9h-2.4M502.3,438.9h2.4M33.9,415.65h-4M502.3,415.65h4M33.9,392.4h-2.4M502.3,392.4h2.4M33.9,369.15h-4M502.3,369.15h4" stroke-width="1.15"/>
<path d="M33.9,368.65V508.65H502.9" stroke-width="1.55"/>
<path d="M33.9,369.15H502.3V508.65" stroke-width="1.25" stroke="#111"/>
</g>
<text transform="translate(34,523.85) scale(1.05,1)" text-anchor="middle">0</text>
<text transform="translate(76.58,523.85) scale(1.05,1)" text-anchor="middle">10</text>
<text transform="translate(119.16,523.85) scale(1.05,1)" text-anchor="middle">20</text>
<text transform="translate(161.75,523.85) scale(1.05,1)" text-anchor="middle">30</text>
<text transform="translate(204.33,523.85) scale(1.05,1)" text-anchor="middle">40</text>
<text transform="translate(246.91,523.85) scale(1.05,1)" text-anchor="middle">50</text>
<text transform="translate(289.49,523.85) scale(1.05,1)" text-anchor="middle">60</text>
<text transform="translate(332.07,523.85) scale(1.05,1)" text-anchor="middle">70</text>
<text transform="translate(374.65,523.85) scale(1.05,1)" text-anchor="middle">80</text>
<text transform="translate(417.24,523.85) scale(1.05,1)" text-anchor="middle">90</text>
<text transform="translate(459.82,523.85) scale(1.05,1)" text-anchor="middle">100</text>
<text transform="translate(502.4,523.85) scale(1.05,1)" text-anchor="middle">110</text>
<text transform="translate(27.2,511.95) scale(1.05,1)" text-anchor="end">0</text>
<text transform="translate(27.2,465.45) scale(1.05,1)" text-anchor="end">4</text>
<text transform="translate(27.2,418.95) scale(1.05,1)" text-anchor="end">8</text>
<text transform="translate(27.2,372.45) scale(1.05,1)" text-anchor="end">12</text>
<text transform="translate(10.9,438.9) rotate(-90) scale(1.05,1)" text-anchor="middle">y in mm</text>
<rect x="38.4" y="363.75" width="103.1" height="23.45" fill="#fff" stroke="#222" stroke-width="1.2"/>
<text transform="translate(43.6,379.25) scale(1.05,1)">+2 mm &lt; x &lt; +5 mm</text>
</g>
<text transform="translate(240.4,542.3) scale(1.035,1)" font-size="10.2">v<tspan font-size="6.6" dy="2.2">x</tspan><tspan dy="-2.2"> in mm s</tspan><tspan font-size="6.4" dy="-4.3">-1</tspan></text>
</svg>
</body>
</html>
